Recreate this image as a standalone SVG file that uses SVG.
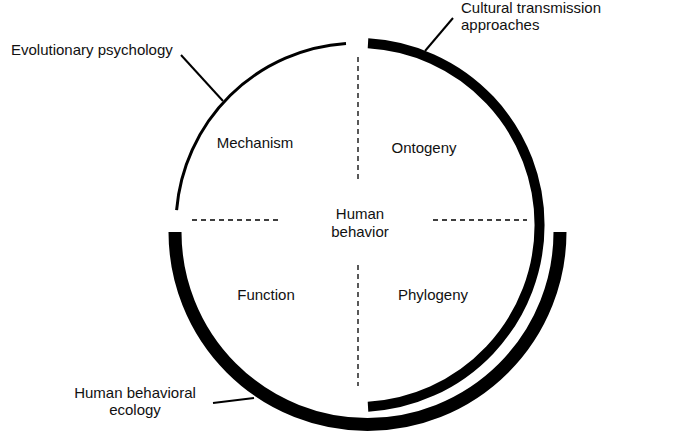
<svg xmlns="http://www.w3.org/2000/svg" width="685" height="435" viewBox="0 0 685 435">
<style>
text{font-family:"Liberation Sans",Arial,sans-serif;font-size:15px;fill:#111}
.arc{fill:none;stroke:#000;stroke-linecap:butt}
.dash{stroke:#000;stroke-width:1.3;stroke-dasharray:5 4;fill:none}
.lead{stroke:#000;stroke-width:2;fill:none}
.c{text-anchor:middle}
</style>
<rect width="685" height="435" fill="#fff"/>
<g id="connectors">
<line class="dash" x1="358" y1="57" x2="358" y2="179"/>
<line class="dash" x1="358" y1="265" x2="358" y2="386"/>
<line class="dash" x1="192" y1="220" x2="279" y2="220"/>
<line class="dash" x1="433" y1="220" x2="527" y2="220"/>
<line class="lead" x1="181" y1="55" x2="223" y2="101"/>
<line class="lead" x1="453" y1="18" x2="425" y2="51"/>
<line class="lead" x1="213" y1="403" x2="254" y2="398"/>
</g>
<g id="evolutionary-psychology">
<path class="arc" stroke-width="3" d="M176.6,210.1 A182,182 0 0 1 346,43.4"/>
<text x="11" y="55">Evolutionary psychology</text>
</g>
<g id="cultural-transmission">
<path class="arc" stroke-width="10" d="M368,43.3 A182,182 0 0 1 368,406.7"/>
<text x="461" y="13">Cultural transmission</text>
<text x="461" y="30">approaches</text>
</g>
<g id="human-behavioral-ecology">
<path class="arc" stroke-width="13" d="M175,232 A192.5,192.5 0 0 0 560,232"/>
<text class="c" x="135" y="398">Human behavioral</text>
<text class="c" x="135" y="415">ecology</text>
</g>
<g id="mechanism"><text class="c" x="255" y="148">Mechanism</text></g>
<g id="ontogeny"><text class="c" x="424" y="153">Ontogeny</text></g>
<g id="human-behavior">
<text class="c" x="360" y="219">Human</text>
<text class="c" x="360" y="237">behavior</text>
</g>
<g id="function"><text class="c" x="266" y="300">Function</text></g>
<g id="phylogeny"><text class="c" x="433" y="300">Phylogeny</text></g>
</svg>
